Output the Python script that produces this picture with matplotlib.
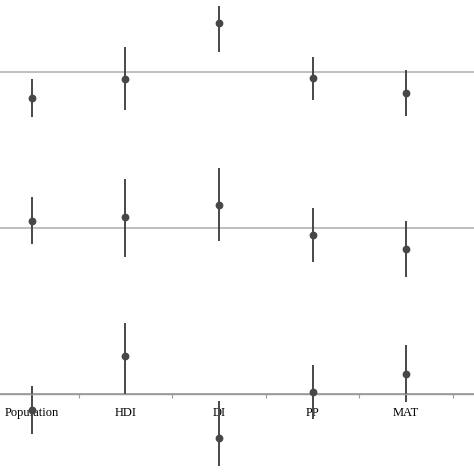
import matplotlib
matplotlib.use("Agg")
import matplotlib.pyplot as plt
import numpy as np

categories = ["Population", "HDI", "DI", "PP", "MAT"]

# row 1 (top)
est_top = [-0.26, -0.07, 0.49, -0.06, -0.21]
lo_top = [-0.45, -0.38, 0.20, -0.28, -0.44]
hi_top = [-0.07, 0.25, 0.66, 0.15, 0.02]

# row 2 (middle)
est_mid = [0.07, 0.11, 0.23, -0.07, -0.21]
lo_mid = [-0.16, -0.29, -0.13, -0.34, -0.49]
hi_mid = [0.31, 0.49, 0.60, 0.20, 0.07]

# row 3 (bottom)
est_bot = [-0.16, 0.38, -0.44, 0.02, 0.20]
lo_bot = [-0.40, 0.00, -0.72, -0.25, -0.08]
hi_bot = [0.08, 0.71, -0.07, 0.29, 0.49]

W = H = 474
fig = plt.figure(figsize=(4.74, 4.74), dpi=100)
plt.rcParams['font.family'] = ['Liberation Serif', 'DejaVu Serif']

rows = [
    (est_top, lo_top, hi_top, (0.0, 150.0), (-0.783, 0.717)),
    (est_mid, lo_mid, hi_mid, (150.0, 300.0), (-0.723, 0.777)),
    (est_bot, lo_bot, hi_bot, (300.0, 474.0), (-0.797, 0.943)),
]

x = np.arange(len(categories))
xlim = (-0.342, 4.727)
pt_col = "#474747"
ref_col = "#b4b4b4"

for i, (est, lo, hi, (ytop, ybot), ylim) in enumerate(rows):
    ax = fig.add_axes([0, (H - ybot) / H, 1, (ybot - ytop) / H])
    ax.set_xlim(*xlim)
    ax.set_ylim(*ylim)
    ax.patch.set_alpha(0)
    for s in ax.spines.values():
        s.set_visible(False)
    ax.set_yticks([])
    last = (i == len(rows) - 1)
    ax.axhline(0, color=("#9a9a9a" if last else ref_col), lw=1.2, zorder=1)
    ax.vlines(x, lo, hi, color=pt_col, lw=1.4, zorder=2)
    ax.plot(x, est, 'o', color=pt_col, ms=4.6, zorder=3, clip_on=False)
    if last:
        ax.spines['bottom'].set_visible(True)
        ax.spines['bottom'].set_position(('data', 0))
        ax.spines['bottom'].set_color("#9a9a9a")
        ax.spines['bottom'].set_linewidth(1.0)
        ax.set_xticks(x + 0.5)
        ax.set_xticklabels([])
        ax.tick_params(axis='x', which='major', length=3, width=0.8,
                       color="#9a9a9a", direction='out')
        ax.set_xticks(x, minor=True)
        ax.set_xticklabels(categories, minor=True, fontsize=9,
                           family=['Liberation Serif', 'DejaVu Serif'])
        ax.tick_params(axis='x', which='minor', length=0, pad=9,
                       labelcolor="#000000")
    else:
        ax.set_xticks([])

fig.savefig("out.png", dpi=100)
